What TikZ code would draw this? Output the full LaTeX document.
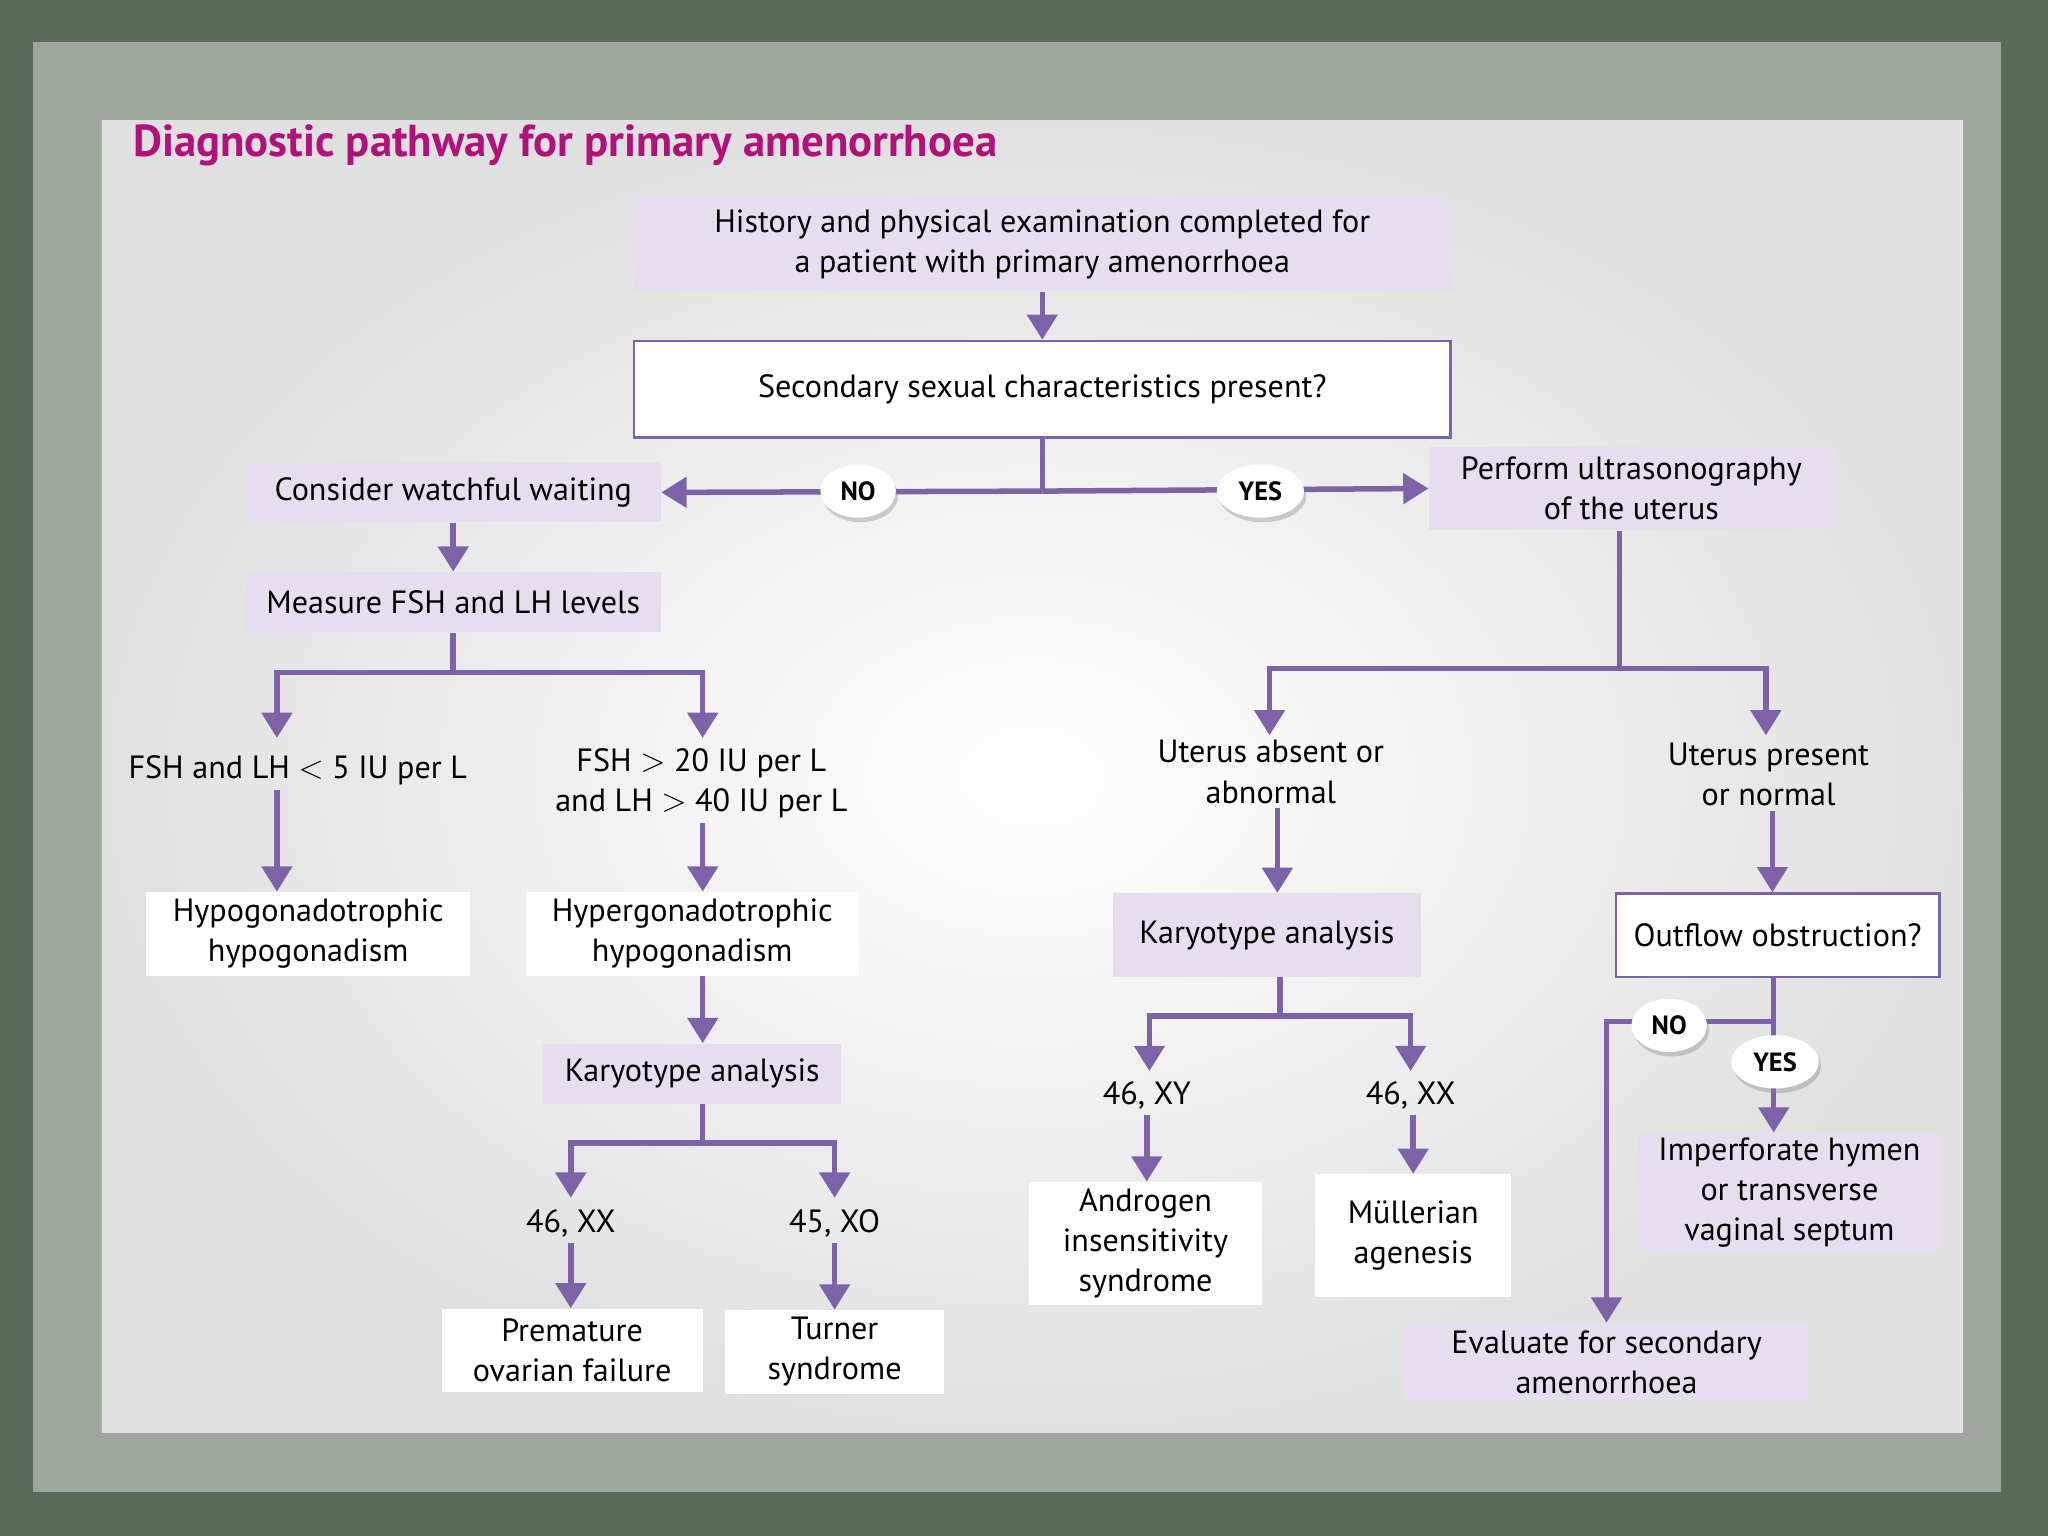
\documentclass[tikz,border=0pt]{standalone}
\usepackage{fontspec}
\setmainfont{PT Sans}
\usetikzlibrary{arrows.meta,shadows,shapes.geometric}
\definecolor{pur}{HTML}{7E62A8}
\definecolor{lav}{HTML}{E6DEEF}
\definecolor{ttl}{HTML}{B0127A}
\begin{document}
\begin{tikzpicture}[x=0.02cm,y=-0.02cm,
  every node/.style={font=\fontsize{14}{17.5}\selectfont,align=center,inner sep=2pt},
  lb/.style={fill=lav,minimum width=#1},
  wb/.style={fill=white,minimum width=#1},
  bb/.style={fill=white,draw=pur,line width=1pt,minimum width=#1},
  ln/.style={draw=pur,line width=2.4pt},
  arr/.style={ln,-{Triangle[length=11pt,width=13pt]}},
  yn/.style={ellipse,fill=white,font=\fontsize{11.5}{13}\selectfont\bfseries,inner sep=4pt,drop shadow={opacity=0.35,shadow xshift=1pt,shadow yshift=-2pt}}]
\useasboundingbox (0,0) rectangle (1568,1176);
\fill[green!10!black!65] (0,0) rectangle (1568,1176);
\fill[green!8!black!38] (25,32) rectangle (1532,1142);
\shade[inner color=white,outer color=black!12] (78,92) rectangle (1503,1097);
\node[anchor=west,text=ttl,font=\fontsize{19.5}{22}\selectfont\bfseries] (title) at (98,111) {Diagnostic pathway for primary amenorrhoea};
% nodes
\node[lb=12.5cm,minimum height=1.44cm] (hist) at (798,187) {History and physical examination completed for\\a patient with primary amenorrhoea};
\node[bb=12.5cm,minimum height=1.48cm] (sec) at (798,298) {Secondary sexual characteristics present?};
\node[lb=6.36cm,minimum height=0.92cm] (watch) at (347,377) {Consider watchful waiting};
\node[lb=6.2cm,minimum height=1.28cm] (ultra) at (1249,374) {Perform ultrasonography\\of the uterus};
\node[lb=6.36cm,minimum height=0.92cm] (fsh) at (347,461) {Measure FSH and LH levels};
\node (lt5) at (228,590) {FSH and LH $<$ 5 IU per L};
\node (gt20) at (537,600) {FSH $>$ 20 IU per L\\and LH $>$ 40 IU per L};
\node[wb=4.96cm,minimum height=1.28cm] (hypo) at (236,715) {Hypogonadotrophic\\hypogonadism};
\node[wb=5.1cm,minimum height=1.28cm] (hyper) at (530,715) {Hypergonadotrophic\\hypogonadism};
\node[lb=4.56cm,minimum height=0.92cm] (k1) at (530,822) {Karyotype analysis};
\node (xx1) at (437,937) {46, XX};
\node (xo) at (639,937) {45, XO};
\node[wb=4.0cm,minimum height=1.28cm] (pof) at (438,1034) {Premature\\ovarian failure};
\node[wb=3.36cm,minimum height=1.28cm] (turn) at (639,1035) {Turner\\syndrome};
\node (uabs) at (973,591) {Uterus absent or\\abnormal};
\node (upres) at (1354,593) {Uterus present\\or normal};
\node[lb=4.72cm,minimum height=1.28cm] (k2) at (970,716) {Karyotype analysis};
\node[bb=4.96cm,minimum height=1.28cm] (out) at (1361,716) {Outflow obstruction?};
\node (xy) at (878,839) {46, XY};
\node (xx2) at (1080,839) {46, XX};
\node[wb=3.56cm,minimum height=1.88cm] (ais) at (877,952) {Androgen\\insensitivity\\syndrome};
\node[wb=3.0cm,minimum height=1.88cm] (mull) at (1082,946) {Müllerian\\agenesis};
\node[lb=4.64cm,minimum height=1.8cm] (imp) at (1370,913) {Imperforate hymen\\or transverse\\vaginal septum};
\node[lb=6.2cm,minimum height=1.2cm] (eval) at (1230,1043) {Evaluate for secondary\\amenorrhoea};
% connectors
\draw[arr] (hist) -- (sec);
\coordinate (j1) at (798,376);
\draw[ln] (sec.south) -- (j1);
\draw[arr] (j1) -- (watch.east);
\draw[arr] (j1) -- (ultra.west);
\node[yn] (no1) at (657,376) {NO};
\node[yn] (yes1) at (965,376) {YES};
\draw[arr] (watch) -- (fsh);
\coordinate (j2) at (347,515);
\draw[ln] (fsh.south) -- (j2);
\coordinate (a1) at (212,565);
\coordinate (a2) at (538,565);
\draw[arr] (j2) -| (a1);
\draw[arr] (j2) -| (a2);
\draw[arr] (lt5.south -| 212,0) -- (hypo.north -| 212,0);
\draw[arr] (gt20.south -| 538,0) -- (hyper.north -| 538,0);
\draw[arr] (hyper.south -| 538,0) -- (k1.north -| 538,0);
\coordinate (j3) at (538,875);
\draw[ln] (k1.south -| 538,0) -- (j3);
\coordinate (b1) at (437,917);
\coordinate (b2) at (639,917);
\draw[arr] (j3) -| (b1);
\draw[arr] (j3) -| (b2);
\draw[arr] (xx1.south) -- (pof.north -| xx1);
\draw[arr] (xo.south) -- (turn.north);
\coordinate (j4) at (1240,512);
\draw[ln] (ultra.south -| 1240,0) -- (j4);
\coordinate (c1) at (972,563);
\coordinate (c2) at (1352,563);
\draw[arr] (j4) -| (c1);
\draw[arr] (j4) -| (c2);
\draw[arr] (uabs.south -| 978,0) -- (k2.north -| 978,0);
\draw[arr] (upres.south -| 1357,0) -- (out.north -| 1357,0);
\coordinate (j5) at (980,778);
\draw[ln] (k2.south -| 980,0) -- (j5);
\coordinate (d1) at (880,820);
\coordinate (d2) at (1080,820);
\draw[arr] (j5) -| (d1);
\draw[arr] (j5) -| (d2);
\draw[arr] (xy.south) -- (ais.north -| xy);
\draw[arr] (xx2.south -| 1082,0) -- (mull.north);
\coordinate (j6) at (1358,782);
\draw[arr] (out.south -| 1358,0) -- (imp.north -| 1358,0);
\draw[arr] (j6) -- (1230,782) -- (eval.north);
\node[yn] (no2) at (1278,785) {NO};
\node[yn] (yes2) at (1359,813) {YES};
\end{tikzpicture}
\end{document}
